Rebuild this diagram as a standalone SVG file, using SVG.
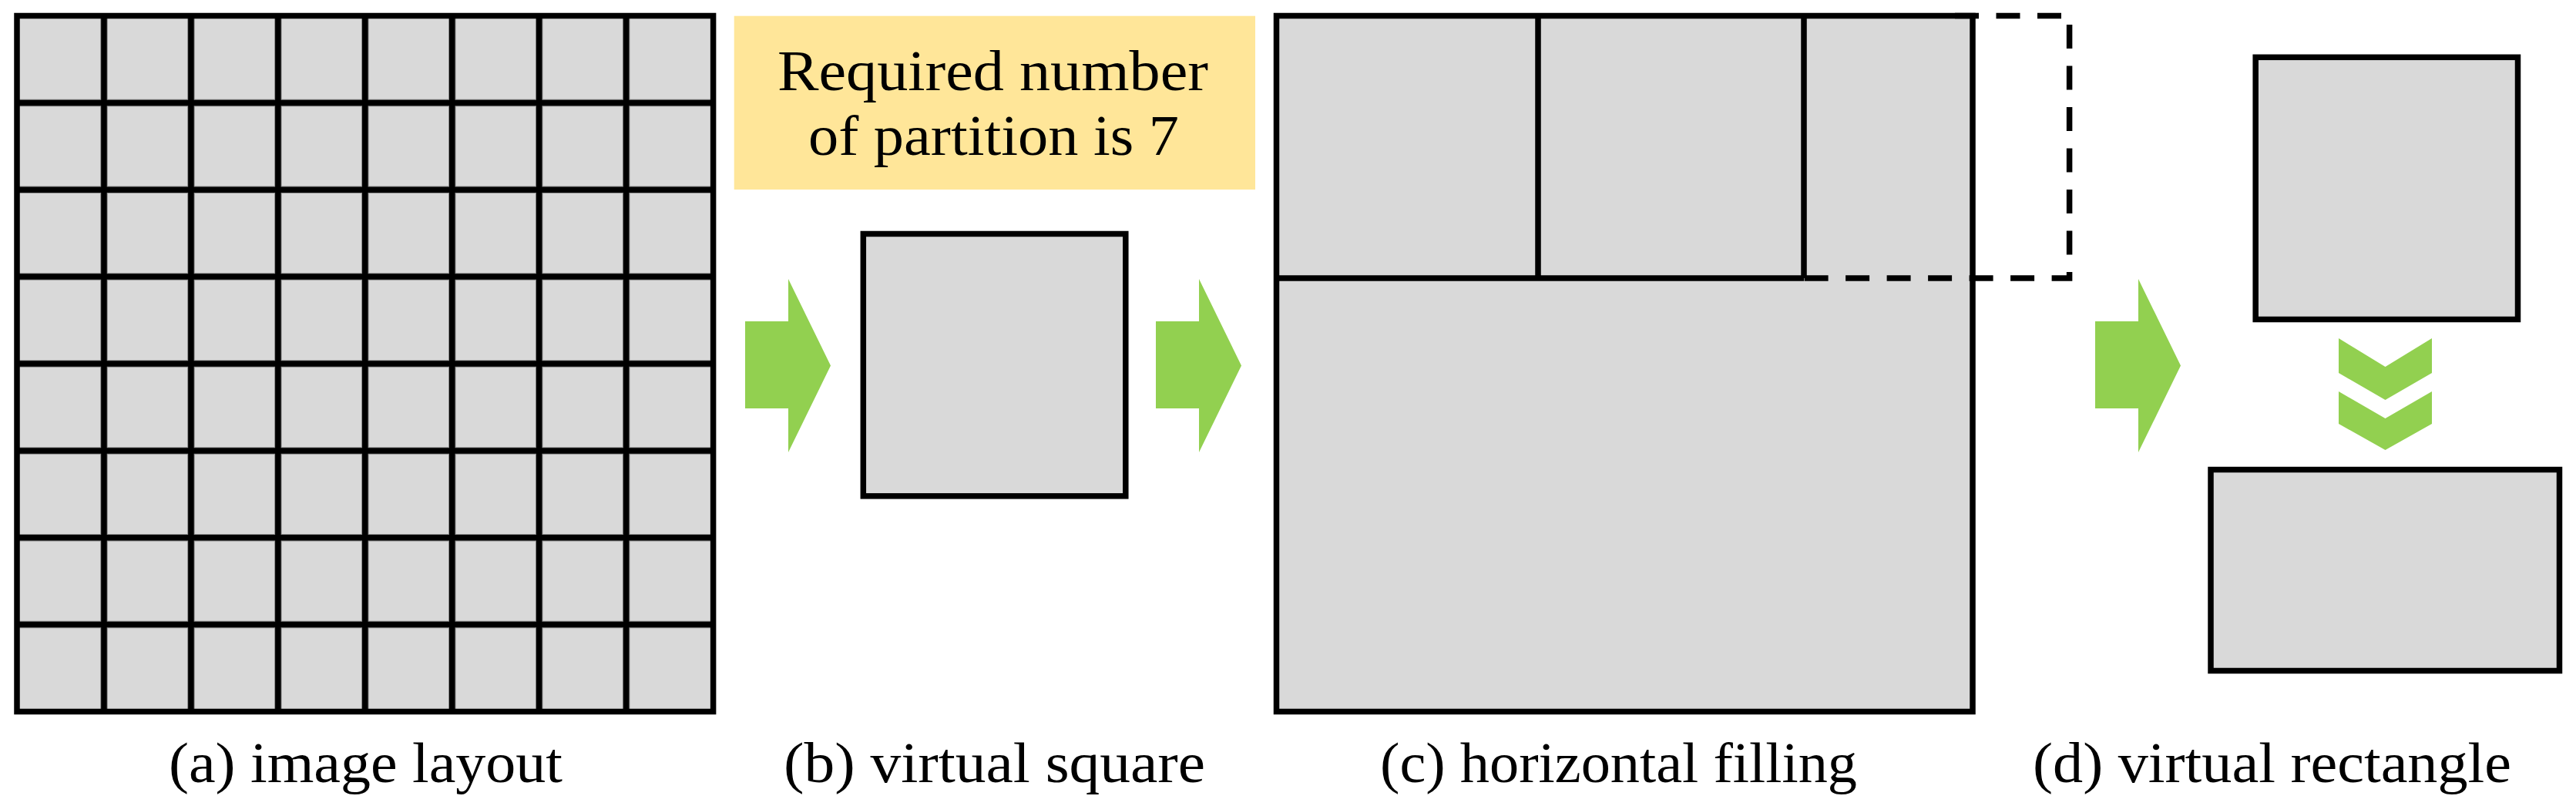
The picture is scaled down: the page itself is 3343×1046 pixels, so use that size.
<svg xmlns="http://www.w3.org/2000/svg" width="3343" height="1046" viewBox="0 0 3343 1046">
  <style>
    .cell { fill: #D9D9D9; }
    .fringe { fill: none; stroke: #8a8a8a; stroke-width: 9.5; }
    .line { fill: none; stroke: #000000; stroke-width: 7.5; }
    .box { fill: #D9D9D9; stroke: #000000; stroke-width: 7.5; }
    .dash { fill: none; stroke: #000000; stroke-width: 7.5; stroke-dasharray: 31 22.5; }
    .green { fill: #92D050; }
    .cap { font-family: "Liberation Serif", "DejaVu Serif", serif; font-size: 75px; fill: #000000; }
  </style>
  <defs>
    <path id="bigArrow" d="M0,55 H56 V0 L111,112.5 L56,225 V168 H0 Z"/>
  </defs>
  <rect x="0" y="0" width="3343" height="1046" fill="#ffffff"/>

  <g id="node-a-image-layout">
    <rect class="cell" x="22" y="20.5" width="903.6" height="903"/>
    <path class="fringe" d="M134.95,20.5V923.5M247.9,20.5V923.5M360.85,20.5V923.5M473.8,20.5V923.5M586.75,20.5V923.5M699.7,20.5V923.5M812.65,20.5V923.5M22,133.4H925.6M22,246.3H925.6M22,359.1H925.6M22,472H925.6M22,584.9H925.6M22,697.8H925.6M22,810.6H925.6"/>
    <path class="line" d="M134.95,20.5V923.5M247.9,20.5V923.5M360.85,20.5V923.5M473.8,20.5V923.5M586.75,20.5V923.5M699.7,20.5V923.5M812.65,20.5V923.5M22,133.4H925.6M22,246.3H925.6M22,359.1H925.6M22,472H925.6M22,584.9H925.6M22,697.8H925.6M22,810.6H925.6"/>
    <rect class="line" x="22" y="20.5" width="903.6" height="903"/>
    <text class="cap" x="219" y="1015" textLength="511" lengthAdjust="spacingAndGlyphs">(a) image layout</text>
  </g>

  <g id="node-note">
    <rect x="952.7" y="20.7" width="676.3" height="225.3" fill="#FFE699"/>
    <text class="cap" x="1009" y="117" textLength="559" lengthAdjust="spacingAndGlyphs">Required number</text>
    <text class="cap" x="1049" y="201" textLength="481" lengthAdjust="spacingAndGlyphs">of partition is 7</text>
  </g>

  <g id="node-b-virtual-square">
    <rect class="box" x="1120.3" y="303.5" width="340.5" height="340.3"/>
    <text class="cap" x="1017" y="1015" textLength="547" lengthAdjust="spacingAndGlyphs">(b) virtual square</text>
  </g>

  <g id="node-c-horizontal-filling">
    <rect class="box" x="1656.5" y="20.5" width="903.5" height="903"/>
    <path class="line" d="M1656.5,361H2341M1996,20.5V361M2341,20.5V361"/>
    <path class="dash" d="M2685.6,32V361H2341"/>
    <path class="dash" d="M2537,20.5H2690"/>
    <text class="cap" x="1791" y="1015" textLength="619" lengthAdjust="spacingAndGlyphs">(c) horizontal filling</text>
  </g>

  <g id="node-d-virtual-rectangle">
    <rect class="box" x="2927.2" y="74.3" width="340.3" height="340.2"/>
    <rect class="box" x="2869" y="609.5" width="452.5" height="261"/>
    <text class="cap" x="2638" y="1015" textLength="621" lengthAdjust="spacingAndGlyphs">(d) virtual rectangle</text>
  </g>

  <g id="connectors">
    <use href="#bigArrow" class="green" transform="translate(967,362)"/>
    <use href="#bigArrow" class="green" transform="translate(1500,362)"/>
    <use href="#bigArrow" class="green" transform="translate(2719,362)"/>
    <path class="green" d="M3035,439L3095.5,476L3156,439V484L3095.5,519L3035,484Z"/>
    <path class="green" d="M3035,508L3095.5,543L3156,508V550L3095.5,584L3035,550Z"/>
  </g>
</svg>
